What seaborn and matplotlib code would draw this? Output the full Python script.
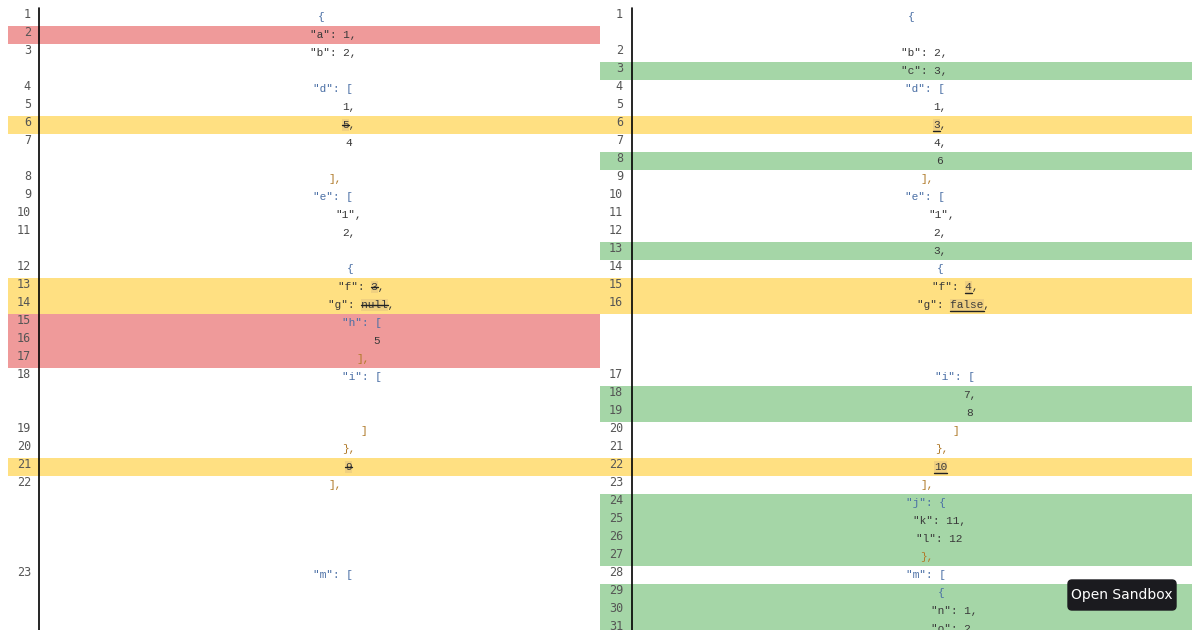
import matplotlib
matplotlib.use("Agg")
import matplotlib.pyplot as plt
from matplotlib.patches import FancyBboxPatch
import seaborn as sns

sns.set_theme(style="white")

# Left (old) document: line number, visual row, text, status
left_nums = [1, 2, 3, 4, 5, 6, 7, 8, 9, 10, 11, 12, 13, 14, 15, 16, 17, 18, 19, 20, 21, 22, 23]
left_rows = [0, 1, 2, 4, 5, 6, 7, 9, 10, 11, 12, 14, 15, 16, 17, 18, 19, 20, 23, 24, 25, 26, 31]
left_text = ['{', '"a": 1,', '"b": 2,', '"d": [', '1,', '5,', '4', '],', '"e": [', '"1",', '2,',
             '{', '"f": 3,', '"g": null,', '"h": [', '5', '],', '"i": [', ']', '},', '9', '],', '"m": [']
left_x = [318, 310, 310, 313, 342, 342, 345, 328, 313, 335, 342, 347, 338, 328, 342, 373, 357, 342, 360, 342, 345, 328, 313]
left_status = ['', 'del', '', '', '', 'mod', '', '', '', '', '', '', 'mod', 'mod', 'del', 'del', 'del', '', '', '', 'mod', '', '']
# struck-through old values: (line index, first char, char count)
left_strike = [(5, 0, 1), (12, 5, 1), (13, 5, 4), (20, 0, 1)]

# Right (new) document
right_nums = list(range(1, 32))
right_rows = [0, 2, 3, 4, 5, 6, 7, 8, 9, 10, 11, 12, 13, 14, 15, 16, 20, 21, 22, 23, 24, 25, 26, 27, 28, 29, 30, 31, 32, 33, 34]
right_text = ['{', '"b": 2,', '"c": 3,', '"d": [', '1,', '3,', '4,', '6', '],', '"e": [', '"1",', '2,', '3,',
              '{', '"f": 4,', '"g": false,', '"i": [', '7,', '8', ']', '},', '10', '],', '"j": {', '"k": 11,',
              '"l": 12', '},', '"m": [', '{', '"n": 1,', '"o": 2']
right_x = [908, 901, 901, 905, 933, 933, 933, 936, 920, 905, 928, 933, 933, 937, 932, 917, 935, 963, 966, 953,
           935, 934, 920, 906, 913, 916, 920, 906, 938, 931, 931]
right_status = ['', '', 'add', '', '', 'mod', '', 'add', '', '', '', '', 'add', '', 'mod', 'mod', '', 'add', 'add',
                '', '', 'mod', '', 'add', 'add', 'add', 'add', '', 'add', 'add', 'add']
# underlined new values
right_under = [(5, 0, 1), (14, 5, 1), (15, 5, 5), (21, 0, 2)]

colors = {'del': '#ef9a9a', 'mod': '#ffe082', 'add': '#a5d6a7'}
ROW_H, TOP = 18, 8
FS = 8.0
CW = FS * 100 / 72 * 0.6  # monospace char width in px
FONT = 'Liberation Mono'

fig = plt.figure(figsize=(12, 6.3), dpi=100)
ax = fig.add_axes([0, 0, 1, 1])
ax.set_xlim(0, 1200)
ax.set_ylim(630, 0)
ax.axis('off')


def token_color(t):
    s = t.strip().rstrip(',')
    if s.endswith('[') or s.endswith('{'):
        return '#4a6fa5'
    if s in (']', '}'):
        return '#b07a2a'
    return '#3a3a3a'


def panel(nums, rows, texts, xs, status, marks, mark_dy, x0, x1, num_x, div_x):
    for n, r, t, x, s in zip(nums, rows, texts, xs, status):
        y = TOP + r * ROW_H
        if s:
            ax.add_patch(plt.Rectangle((x0, y), x1 - x0, ROW_H, color=colors[s], lw=0, zorder=0))
        ax.text(num_x, y + 7, str(n), ha='right', va='center', fontsize=8.5,
                family='DejaVu Sans Mono', color='#555555')
        ax.text(x, y + 9, t, ha='left', va='center', fontsize=FS,
                family=FONT, color=token_color(t))
    for i, c0, nc in marks:
        y = TOP + rows[i] * ROW_H + 9 + mark_dy
        xs0 = xs[i] + c0 * CW
        ax.add_patch(plt.Rectangle((xs0, TOP + rows[i] * ROW_H + 3), nc * CW, 12,
                                   color='#f0d080', lw=0, zorder=0.5))
        ax.plot([xs0, xs0 + nc * CW], [y, y], color='#222222', lw=1.0, zorder=3)
    ax.plot([div_x, div_x], [8, 630], color='black', lw=1.2)


panel(left_nums, left_rows, left_text, left_x, left_status, left_strike, 0, 8, 600, 31, 39)
panel(right_nums, right_rows, right_text, right_x, right_status, right_under, 6, 600, 1192, 623, 632)

# Open Sandbox button
ax.add_patch(FancyBboxPatch((1068, 580), 108, 30, boxstyle='round,pad=0,rounding_size=4',
                            color='#1b1b1f', zorder=5))
ax.text(1122, 595, 'Open Sandbox', ha='center', va='center', fontsize=10,
        color='white', zorder=6)

fig.savefig('out.png', dpi=100)
